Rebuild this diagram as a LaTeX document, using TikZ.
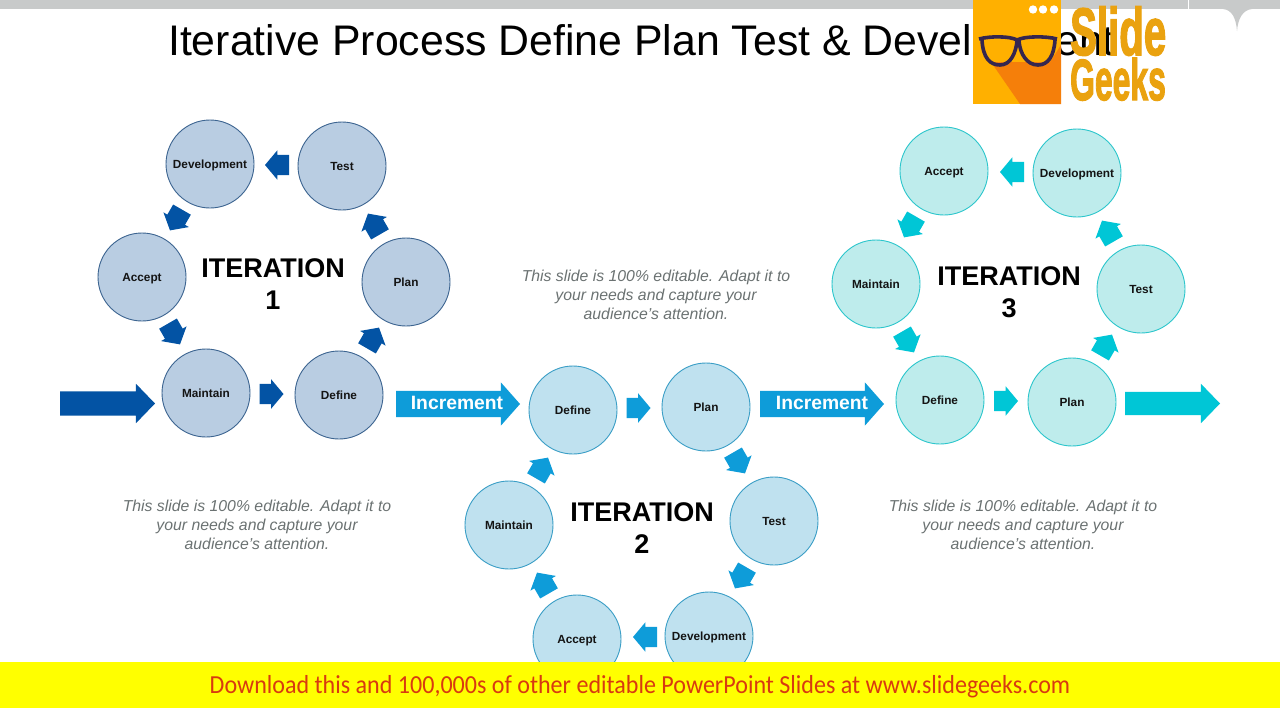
\documentclass[tikz,border=0pt]{standalone}
\usepackage{fontspec}
\setmainfont{Liberation Sans}
\newfontfamily\barfont{Carlito}
\newfontfamily\logofont[UprightFont=* Bold,FakeBold=2.5]{Liberation Sans}
\usetikzlibrary{shapes.arrows}
\definecolor{fillA}{HTML}{B9CDE2}
\definecolor{edgeA}{HTML}{3C6490}
\definecolor{arrowA}{HTML}{0353A4}
\definecolor{fillB}{HTML}{BFE1EF}
\definecolor{edgeB}{HTML}{3A9EC6}
\definecolor{arrowB}{HTML}{0E9CD9}
\definecolor{fillC}{HTML}{BEECEC}
\definecolor{edgeC}{HTML}{2CC6CC}
\definecolor{arrowC}{HTML}{00C6D6}
\definecolor{notegrey}{HTML}{6B7272}
\definecolor{logoA}{HTML}{FFB000}
\definecolor{logoB}{HTML}{F57F0A}
\definecolor{logoT}{HTML}{EAA20F}
\definecolor{glass}{HTML}{35264F}
\definecolor{barred}{HTML}{D83A10}
\definecolor{baryellow}{HTML}{FFFF00}
\definecolor{topgrey}{HTML}{C8CACA}
\tikzset{
  stepnode/.style={circle,draw,line width=0.9pt,minimum size=88pt,inner sep=0pt,font=\bfseries\fontsize{11.8}{14}\selectfont,text=black!92,text height=9.5pt,text depth=1.5pt},
  nodeA/.style={stepnode,fill=fillA,draw=edgeA},
  nodeB/.style={stepnode,fill=fillB,draw=edgeB},
  nodeC/.style={stepnode,fill=fillC,draw=edgeC},
  miniarrow/.style={single arrow,draw=none,inner xsep=0pt,inner ysep=10pt,outer sep=0pt,minimum height=24pt,single arrow head extend=4.5pt,single arrow tip angle=100,anchor=tail},
  bigarrow/.style={single arrow,draw=none,inner xsep=0pt,outer sep=0pt,anchor=tail},
  iterlabel/.style={align=center,font=\bfseries\fontsize{27}{32}\selectfont,text=black},
  note/.style={align=center,font=\itshape\fontsize{15.8}{19}\selectfont,text=notegrey}
}
\begin{document}
\begin{tikzpicture}[x=1pt,y=-1pt]
\useasboundingbox (0,0) rectangle (1280,720);
\fill[white] (0,0) rectangle (1280,720);
% top band
\fill[topgrey] (0,0) rectangle (1280,9);
\fill[topgrey] (1223,9) .. controls (1232,10) and (1236,18) .. (1237,31) .. controls (1238,18) and (1243,10) .. (1252,9) -- cycle;
\draw[white,line width=0.6pt] (1188,0) -- (1188,9);
% title
\node[anchor=base west,inner sep=0pt,font=\fontsize{42.8}{48}\selectfont,text=black] (title) at (168,55) {Iterative Process Define Plan Test \& Development};
% iteration 1
\node[nodeA] (a1) at (339,395) {Define};
\node[nodeA] (a2) at (406,282) {Plan};
\node[nodeA] (a3) at (342,166) {Test};
\node[nodeA] (a4) at (210,164) {Development};
\node[nodeA] (a5) at (142,277) {Accept};
\node[nodeA] (a6) at (206,393) {Maintain};
\node[iterlabel] (la) at (273,284) {ITERATION\\1};
\foreach \n/\x/\y/\r in {am1/271.5/394/0,am2/373/338/60,am3/374/224/120,am4/277/165/180,am5/176/220/-120,am6/174/334/-60}
  \node[miniarrow,fill=arrowA,rotate=\r,shift={(-12pt,0pt)}] (\n) at (\x,\y) {};
% iteration 2
\node[nodeB] (b1) at (573,410) {Define};
\node[nodeB] (b2) at (706,407) {Plan};
\node[nodeB] (b3) at (774,521) {Test};
\node[nodeB] (b4) at (709,636) {Development};
\node[nodeB] (b5) at (577,639) {Accept};
\node[nodeB] (b6) at (509,525) {Maintain};
\node[iterlabel] (lb) at (642,528) {ITERATION\\2};
\foreach \n/\x/\y/\r in {bm1/638.5/408/0,bm2/739/463/-60,bm3/741/578/-120,bm4/645/637/180,bm5/543/583/120,bm6/542/468/60}
  \node[miniarrow,fill=arrowB,rotate=\r,shift={(-12pt,0pt)}] (\n) at (\x,\y) {};
% iteration 3
\node[nodeC] (c1) at (940,400) {Define};
\node[nodeC] (c2) at (1072,402) {Plan};
\node[nodeC] (c3) at (1141,289) {Test};
\node[nodeC] (c4) at (1077,173) {Development};
\node[nodeC] (c5) at (944,171) {Accept};
\node[nodeC] (c6) at (876,284) {Maintain};
\node[iterlabel] (lc) at (1009,292) {ITERATION\\3};
\foreach \n/\x/\y/\r in {cm1/1006/401/0,cm2/1106/345/60,cm3/1108/231/120,cm4/1012/172/180,cm5/910/227/-120,cm6/908/342/-60}
  \node[miniarrow,fill=arrowC,rotate=\r,shift={(-12pt,0pt)}] (\n) at (\x,\y) {};
% large arrows
\node[bigarrow,fill=arrowA,inner ysep=12pt,minimum height=95pt,single arrow head extend=7.5pt,single arrow tip angle=92] (inarrow) at (60,403.5) {};
\node[bigarrow,fill=arrowC,inner ysep=11.5pt,minimum height=95pt,single arrow head extend=8pt,single arrow tip angle=92] (outarrow) at (1125,403.5) {};
\node[bigarrow,fill=arrowB,inner ysep=13pt,minimum height=124pt,single arrow head extend=8.5pt,single arrow tip angle=97] (inc1) at (396,404) {};
\node[bigarrow,fill=arrowB,inner ysep=13pt,minimum height=124pt,single arrow head extend=8.5pt,single arrow tip angle=97] (inc2) at (760,404) {};
\node[text=white,font=\bfseries\fontsize{19.3}{22}\selectfont,inner sep=0pt] (inct1) at (457,403) {Increment};
\node[text=white,font=\bfseries\fontsize{19.3}{22}\selectfont,inner sep=0pt] (inct2) at (822,403) {Increment};
% notes
\node[note] (n1) at (257,524.5) {This slide is 100\% editable. Adapt it to\\your needs and capture your\\audience's attention.};
\node[note] (n2) at (656,294.5) {This slide is 100\% editable. Adapt it to\\your needs and capture your\\audience's attention.};
\node[note] (n3) at (1023,524.5) {This slide is 100\% editable. Adapt it to\\your needs and capture your\\audience's attention.};
% logo
\fill[logoA] (973,0) rectangle (1061,104);
\fill[logoB] (991,62) -- (1050,62) -- (1061,45) -- (1061,104) -- (1020,104) -- cycle;
\foreach \x in {1033,1043,1054} \fill[white] (\x,9.5) circle (4.2pt);
\draw[glass,line width=3.6pt,line join=round] (979,39) .. controls (990,36) and (1010,36) .. (1017,40) .. controls (1025,36) and (1046,36) .. (1057,39)
  (982,40) .. controls (983,58) and (990,65) .. (1000,65) .. controls (1011,65) and (1016,52) .. (1017,41)
  (1019,41) .. controls (1020,54) and (1027,65) .. (1038,65) .. controls (1048,65) and (1054,56) .. (1055,40);
\node[anchor=base west,inner sep=0pt,text=logoT,font=\logofont\fontsize{67}{70}\selectfont,xscale=0.6] (logo1) at (1070,55) {Slide};
\node[anchor=base west,inner sep=0pt,text=logoT,font=\logofont\fontsize{58}{60}\selectfont,xscale=0.55] (logo2) at (1070,100) {Geeks};
% bottom band
\fill[baryellow] (0,662) rectangle (1280,708);
\node[text=barred,font=\barfont\fontsize{26}{30}\selectfont,inner sep=0pt,xscale=0.925] (bar) at (640,687) {Download this and 100,000s of other editable PowerPoint Slides at www.slidegeeks.com};
\end{tikzpicture}
\end{document}
